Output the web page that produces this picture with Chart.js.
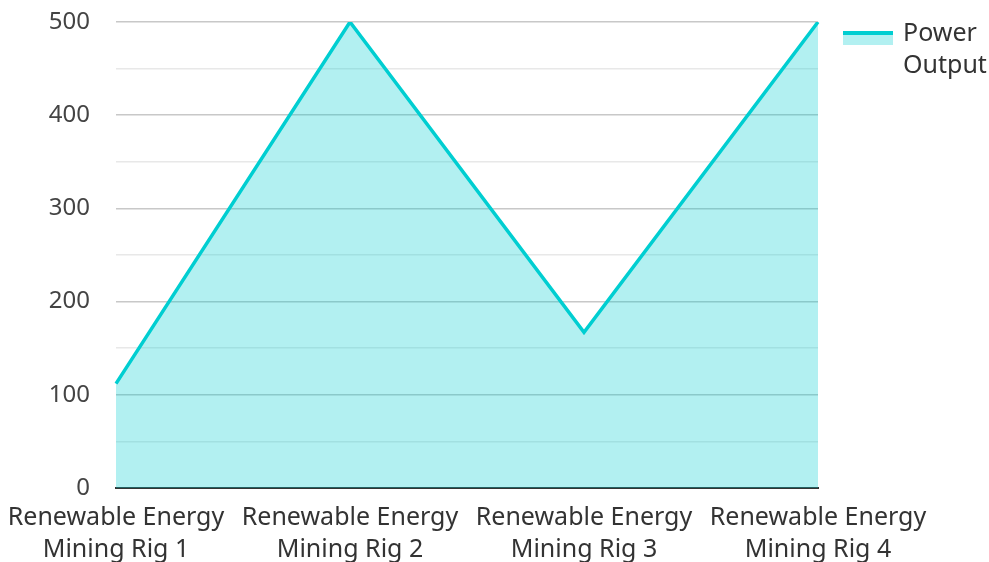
<!DOCTYPE html>
<html>
<head>
<meta charset="utf-8">
<script src="https://cdn.jsdelivr.net/npm/chart.js@4"></script>
<style>
  html, body { margin: 0; padding: 0; background: #fff; }
  #wrap { width: 989px; height: 562px; }
</style>
</head>
<body>
<div id="wrap"><canvas id="graficoPotencia"></canvas></div>
<script>
// dados
var _categorias = ["Renewable Energy Mining Rig 1", "Renewable Energy Mining Rig 2", "Renewable Energy Mining Rig 3", "Renewable Energy Mining Rig 4"];
var _potencia = [112, 500, 167, 500];
var _serieNome = "Power Output";
var _legendaLinhas = ["Power", "Output"];

var _corLinha = "#00CED1";
var _corArea = "rgba(0, 206, 209, 0.3)";
var _fonte = "'Noto Sans', 'Open Sans', sans-serif";

// legenda desenhada a mao: linha em cima, area embaixo
var legendaPlugin = {
    id: "legendaPlugin",
    afterDraw: function (chart) {
        var ctx = chart.ctx;
        var ds = chart.data.datasets[0];
        var x = chart.chartArea.right + 25;
        ctx.save();
        ctx.fillStyle = ds.backgroundColor;
        ctx.fillRect(x, 33, 50, 12);
        ctx.strokeStyle = ds.borderColor;
        ctx.lineWidth = 4;
        ctx.beginPath();
        ctx.moveTo(x, 33);
        ctx.lineTo(x + 50, 33);
        ctx.stroke();
        ctx.fillStyle = "#333";
        ctx.font = "25px " + _fonte;
        ctx.textBaseline = "middle";
        ctx.textAlign = "left";
        _legendaLinhas.forEach(function (t, i) {
            ctx.fillText(t, x + 60, 34 + i * 32);
        });
        ctx.restore();
    }
};

new Chart(document.getElementById("graficoPotencia"), {
    type: "line",
    data: {
        labels: _categorias,
        datasets: [{
            label: _serieNome,
            data: _potencia,
            borderColor: _corLinha,
            backgroundColor: _corArea,
            borderWidth: 3.5,
            fill: "origin",
            pointRadius: 0,
            tension: 0
        }]
    },
    options: {
        responsive: true,
        maintainAspectRatio: false,
        animation: false,
        layout: { padding: { top: 22, right: 171, left: 0, bottom: 0 } },
        plugins: {
            legend: { display: false },
            tooltip: { enabled: false }
        },
        scales: {
            x: {
                offset: false,
                grid: { display: false },
                border: { display: true, color: "#333", width: 2 },
                ticks: {
                    color: "#333",
                    font: { family: _fonte, size: 25, lineHeight: 1.28 },
                    padding: 6,
                    maxRotation: 0,
                    autoSkip: false,
                    callback: function (v) {
                        var s = this.getLabelForValue(v);
                        var i = s.indexOf("Mining");
                        return [s.substring(0, i).trim(), s.substring(i)];
                    }
                },
                afterFit: function (scale) {
                    scale.height = 74;
                    scale.paddingTop = 0;
                    scale.paddingBottom = 0;
                }
            },
            y: {
                min: 0,
                max: 500,
                border: { display: false },
                grid: {
                    drawTicks: false,
                    lineWidth: 1.5,
                    color: function (c) {
                        return c.tick && c.tick.value % 100 === 0 ? "#c8c8c8" : "#e8e8e8";
                    }
                },
                ticks: {
                    stepSize: 50,
                    color: "#444",
                    padding: 26,
                    font: { family: _fonte, size: 24 },
                    callback: function (v) { return v % 100 === 0 ? v : ""; }
                },
                afterFit: function (scale) {
                    scale.width = 116;
                    scale.paddingTop = 0;
                    scale.paddingBottom = 0;
                }
            }
        }
    },
    plugins: [legendaPlugin]
});
</script>
</body>
</html>
